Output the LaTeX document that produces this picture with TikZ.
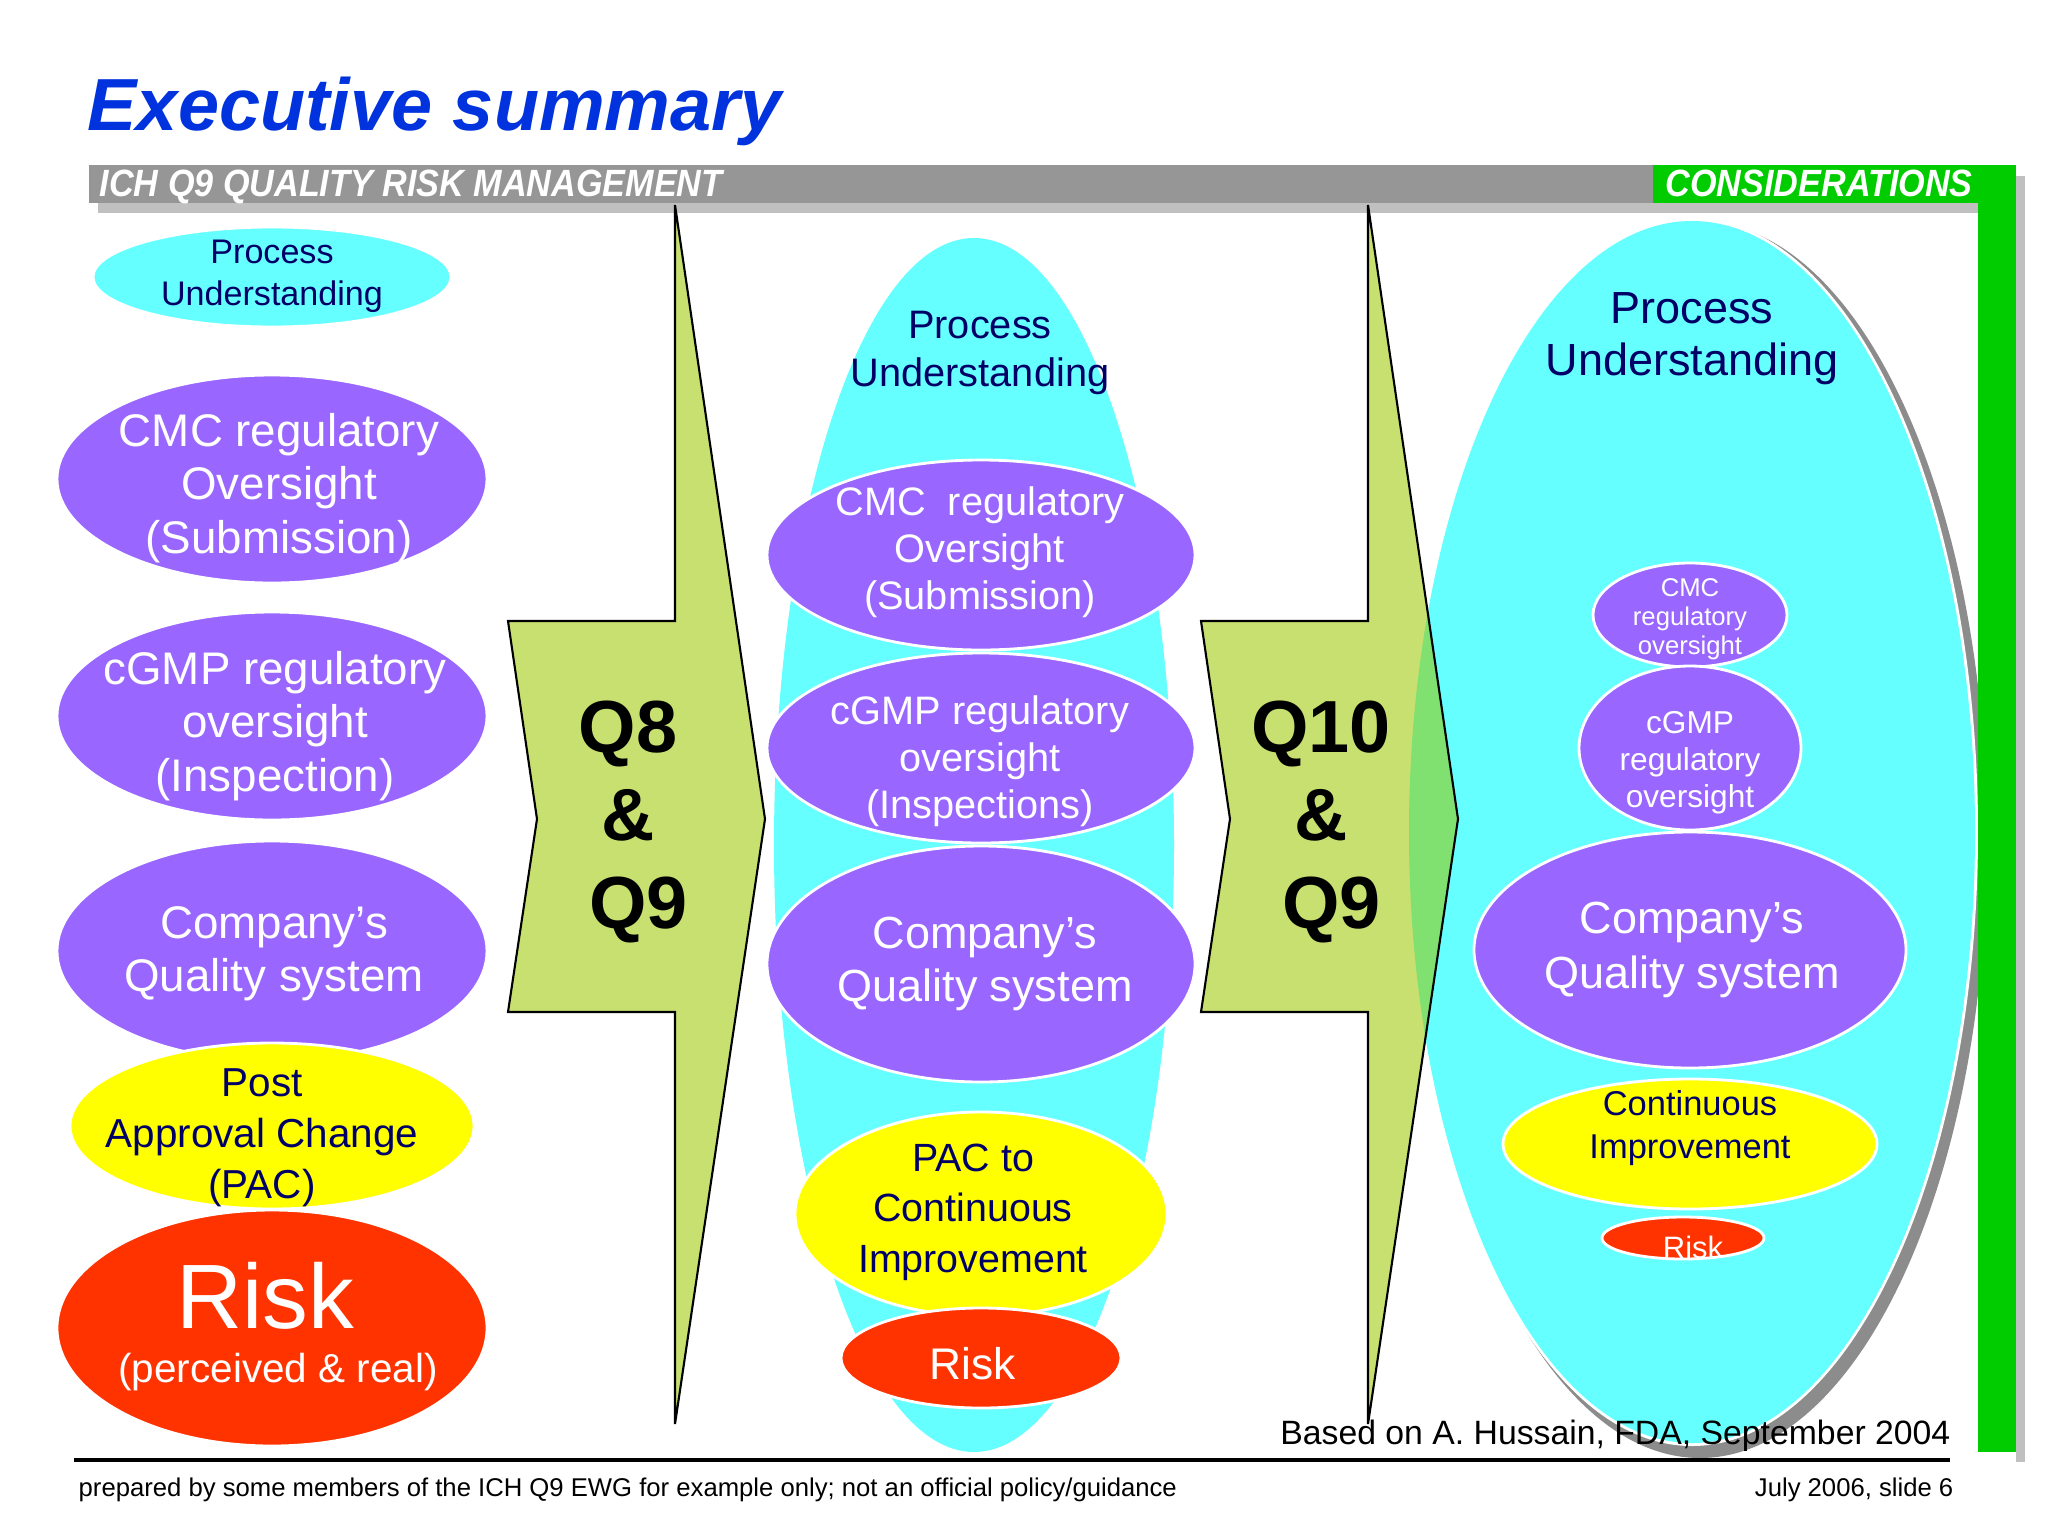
\documentclass[tikz,border=0pt]{standalone}
\usepackage{fontspec}
\setmainfont{Liberation Sans}

\definecolor{cyanA}{RGB}{102,255,255}
\definecolor{purp}{RGB}{153,102,255}
\definecolor{yel}{RGB}{255,255,0}
\definecolor{redd}{RGB}{255,51,0}
\definecolor{navyt}{RGB}{0,0,102}
\definecolor{arrowgreen}{RGB}{200,224,112}
\definecolor{overlapgreen}{RGB}{128,224,112}
\definecolor{hdrgray}{RGB}{150,150,150}
\definecolor{shadowgray}{RGB}{192,192,192}
\definecolor{slidegreen}{RGB}{0,204,0}
\definecolor{titleblue}{RGB}{0,51,221}

\tikzset{
  lbl/.style={align=center, inner sep=0pt},
  wtxt/.style={lbl, text=white},
  ntxt/.style={lbl, text=navyt},
  blob/.style={draw=white, line width=0.8pt},
  hdr/.style={anchor=base west, inner sep=0pt, text=white,
    font=\fontsize{10.8}{12}\selectfont\bfseries\itshape},
  qtxt/.style={lbl, font=\fontsize{21}{25}\selectfont\bfseries},
}

\begin{document}
\begin{tikzpicture}[x=0.01cm,y=-0.01cm]
\useasboundingbox (0,0) rectangle (2048,1536);
\fill[white] (0,0) rectangle (2048,1536);

% title and header band
\node[anchor=base west, inner sep=0pt, text=titleblue,
  font=\fontsize{21}{25}\selectfont\bfseries\itshape] (title) at (87,130) {Executive summary};
\fill[shadowgray] (98,202) rectangle (1978,213);
\fill[shadowgray] (2016,176) rectangle (2025,1462);
\fill[hdrgray] (89,165) rectangle (1653,203);
\fill[slidegreen] (1653,165) rectangle (2016,203);
\node[hdr] (band) at (99,196) {\scalebox{0.9}[1]{ICH Q9 QUALITY RISK MANAGEMENT}};
\node[hdr] (consid) at (1665,196) {\scalebox{0.9}[1]{CONSIDERATIONS}};

% big ellipses
\fill[cyanA] (974,845) ellipse [x radius=200, y radius=607];
\fill[gray!90] (1700,840) ellipse [x radius=287, y radius=618];
\fill[white] (1692,832) ellipse [x radius=286, y radius=614];
\fill[cyanA] (1692,832) ellipse [x radius=283, y radius=611];
\fill[slidegreen] (1978,165) rectangle (2016,1452);

% arrows
\foreach \dx in {0,693} {
  \fill[arrowgreen, xshift=\dx*0.01cm] (675,205) -- (765,819) -- (675,1424) -- (675,1012)
    -- (508,1012) -- (537,819) -- (508,621) -- (675,621) -- cycle;
};
\begin{scope}
  \clip (1692,832) ellipse [x radius=283, y radius=611];
  \fill[overlapgreen, xshift=6.93cm] (675,205) -- (765,819) -- (675,1424) -- (675,1012)
    -- (508,1012) -- (537,819) -- (508,621) -- (675,621) -- cycle;
\end{scope}
\foreach \dx in {0,693} {
  \draw[line width=0.6pt, xshift=\dx*0.01cm] (675,205) -- (765,819) -- (675,1424) -- (675,1012)
    -- (508,1012) -- (537,819) -- (508,621) -- (675,621) -- cycle;
};

% small ellipses, top to bottom
\foreach \cx/\cy/\rx/\ry/\col in {
  272/277/179/50/cyanA, 272/479/215/104/purp, 272/716/215/104/purp,
  272/951/215/110/purp, 272/1126/202/83/yel, 272/1328/215/118/redd,
  981/555/214/95/purp, 981/748/214/95/purp, 981/964/214/118/purp,
  981/1214/186/102/yel, 981/1358/140/50/redd,
  1690/615/97/52/purp, 1690/748/111/82/purp, 1690/950/216/118/purp,
  1690/1144/187/65/yel, 1683/1238/81/21/redd} {
  \filldraw[blob, fill=\col] (\cx,\cy) ellipse [x radius=\rx, y radius=\ry];
};

% left column
\node[ntxt, font=\fontsize{9.7}{12}\selectfont] (puA) at (272,276) {Process\\Understanding};
\node[wtxt, font=\fontsize{13}{15.2}\selectfont] (cmcA) at (279,488) {CMC regulatory\\Oversight\\(Submission)};
\node[wtxt, font=\fontsize{13}{15.2}\selectfont] (gmpA) at (275,726) {cGMP regulatory\\oversight\\(Inspection)};
\node[wtxt, font=\fontsize{13}{15.2}\selectfont] (qsA) at (274,954) {Company’s\\Quality system};
\node[ntxt, font=\fontsize{11.5}{14.5}\selectfont] (pacA) at (262,1138) {Post\\Approval Change\\(PAC)};
\node[wtxt, anchor=base, font=\fontsize{26}{30}\selectfont] (riskA) at (265,1328) {Risk};
\node[wtxt, anchor=base, font=\fontsize{11.5}{14}\selectfont] (percA) at (278,1382) {(perceived \& real)};

% middle column
\node[ntxt, font=\fontsize{11.3}{13.7}\selectfont] (puB) at (980,353) {Process\\Understanding};
\node[wtxt, font=\fontsize{11.3}{13.4}\selectfont] (cmcB) at (980,552) {CMC\ \ regulatory\\Oversight\\(Submission)};
\node[wtxt, font=\fontsize{11.3}{13.4}\selectfont] (gmpB) at (980,761) {cGMP regulatory\\oversight\\(Inspections)};
\node[wtxt, font=\fontsize{12.8}{15}\selectfont] (qsB) at (985,964) {Company’s\\Quality system};
\node[ntxt, font=\fontsize{11.2}{14.4}\selectfont] (pacB) at (973,1212) {PAC to\\Continuous\\Improvement};
\node[wtxt, font=\fontsize{12.6}{14}\selectfont] (riskB) at (973,1364) {Risk};

% right column
\node[ntxt, font=\fontsize{12.8}{14.8}\selectfont] (puC) at (1692,339) {Process\\Understanding};
\node[wtxt, font=\fontsize{7.3}{8.3}\selectfont] (cmcC) at (1690,619) {CMC\\regulatory\\oversight};
\node[wtxt, font=\fontsize{9}{10.5}\selectfont] (gmpC) at (1690,763) {cGMP\\regulatory\\oversight};
\node[wtxt, font=\fontsize{12.8}{15.6}\selectfont] (qsC) at (1692,950) {Company’s\\Quality system};
\node[ntxt, font=\fontsize{9.8}{12}\selectfont] (ciC) at (1690,1128) {Continuous\\Improvement};
\node[wtxt, anchor=base, font=\fontsize{8.8}{10}\selectfont] (riskC) at (1693,1258) {Risk};

% arrow labels
\node[qtxt] (qA) at (628,822) {Q8\\\&\\\hspace*{0.28em}Q9};
\node[qtxt] (qB) at (1321,822) {Q10\\\&\\\hspace*{0.28em}Q9};

% footer
\node[anchor=base east, inner sep=0pt, font=\fontsize{9.6}{11}\selectfont] (src) at (1951,1444)
  {Based on A. Hussain, FDA, September 2004};
\draw[line width=1.2pt] (74,1460) -- (1950,1460);
\node[anchor=base west, inner sep=0pt, font=\fontsize{7.3}{8}\selectfont] (prep) at (78,1496)
  {prepared by some members of the ICH Q9 EWG for example only; not an official policy/guidance};
\node[anchor=base east, inner sep=0pt, font=\fontsize{7.3}{8}\selectfont] (slide) at (1954,1496)
  {July 2006, slide 6};
\end{tikzpicture}
\end{document}
